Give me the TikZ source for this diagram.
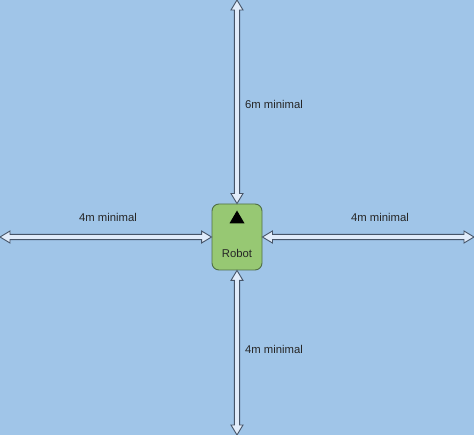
\documentclass[tikz,border=0pt]{standalone}
\usepackage{fontspec}
\setmainfont{Liberation Sans}
\usetikzlibrary{calc}
\definecolor{bgblue}{RGB}{160,197,232}
\definecolor{robgreen}{RGB}{151,200,115}
\definecolor{robedge}{RGB}{80,110,70}
\definecolor{arrfill}{RGB}{225,236,250}
\definecolor{arredge}{RGB}{70,85,105}
\tikzset{
  flex/.style={draw=arredge, fill=arrfill, line width=0.9pt, line join=miter},
  lbl/.style={font=\fontsize{11.3}{13}\selectfont, text=black!85, inner sep=0pt},
  robotbox/.style={draw=robedge, fill=robgreen, line width=0.9pt, rounded corners=7pt,
    minimum width=50pt, minimum height=66pt, inner sep=0pt}
}
\newcommand{\flexH}[2]{%
  \path let \p1=(#1), \p2=(#2) in [flex]
    (\x1,\y1) -- (\x1+10pt,\y1+6pt) -- (\x1+10pt,\y1+2.6pt) -- (\x2-10pt,\y1+2.6pt)
    -- (\x2-10pt,\y1+6pt) -- (\x2,\y1) -- (\x2-10pt,\y1-6pt) -- (\x2-10pt,\y1-2.6pt)
    -- (\x1+10pt,\y1-2.6pt) -- (\x1+10pt,\y1-6pt) -- cycle;}
\newcommand{\flexV}[2]{%
  \path let \p1=(#1), \p2=(#2) in [flex]
    (\x1,\y1) -- (\x1+6pt,\y1-10pt) -- (\x1+2.6pt,\y1-10pt) -- (\x1+2.6pt,\y2+10pt)
    -- (\x1+6pt,\y2+10pt) -- (\x1,\y2) -- (\x1-6pt,\y2+10pt) -- (\x1-2.6pt,\y2+10pt)
    -- (\x1-2.6pt,\y1-10pt) -- (\x1-6pt,\y1-10pt) -- cycle;}
\begin{document}
\begin{tikzpicture}[x=1pt,y=-1pt]
  \fill[bgblue] (0,0) rectangle (474,435);
  \useasboundingbox (0,0) rectangle (474,435);
  \node[robotbox] (robot) at (237,237) {};
  \coordinate (T) at (237,0);
  \coordinate (B) at (237,435);
  \coordinate (L) at (0,237);
  \coordinate (R) at (474,237);
  \flexV{T}{robot.north}
  \flexV{robot.south}{B}
  \flexH{L}{robot.west}
  \flexH{robot.east}{R}
  \fill[black] (237,210.5) -- (244.5,223.3) -- (229.5,223.3) -- cycle;
  \node[lbl] (rlabel) at (237,253) {Robot};
  \node[lbl] (ltop) at (274,104) {6m minimal};
  \node[lbl] (lleft) at (108,217) {4m minimal};
  \node[lbl] (lright) at (380,217) {4m minimal};
  \node[lbl] (lbottom) at (274,349) {4m minimal};
\end{tikzpicture}
\end{document}
